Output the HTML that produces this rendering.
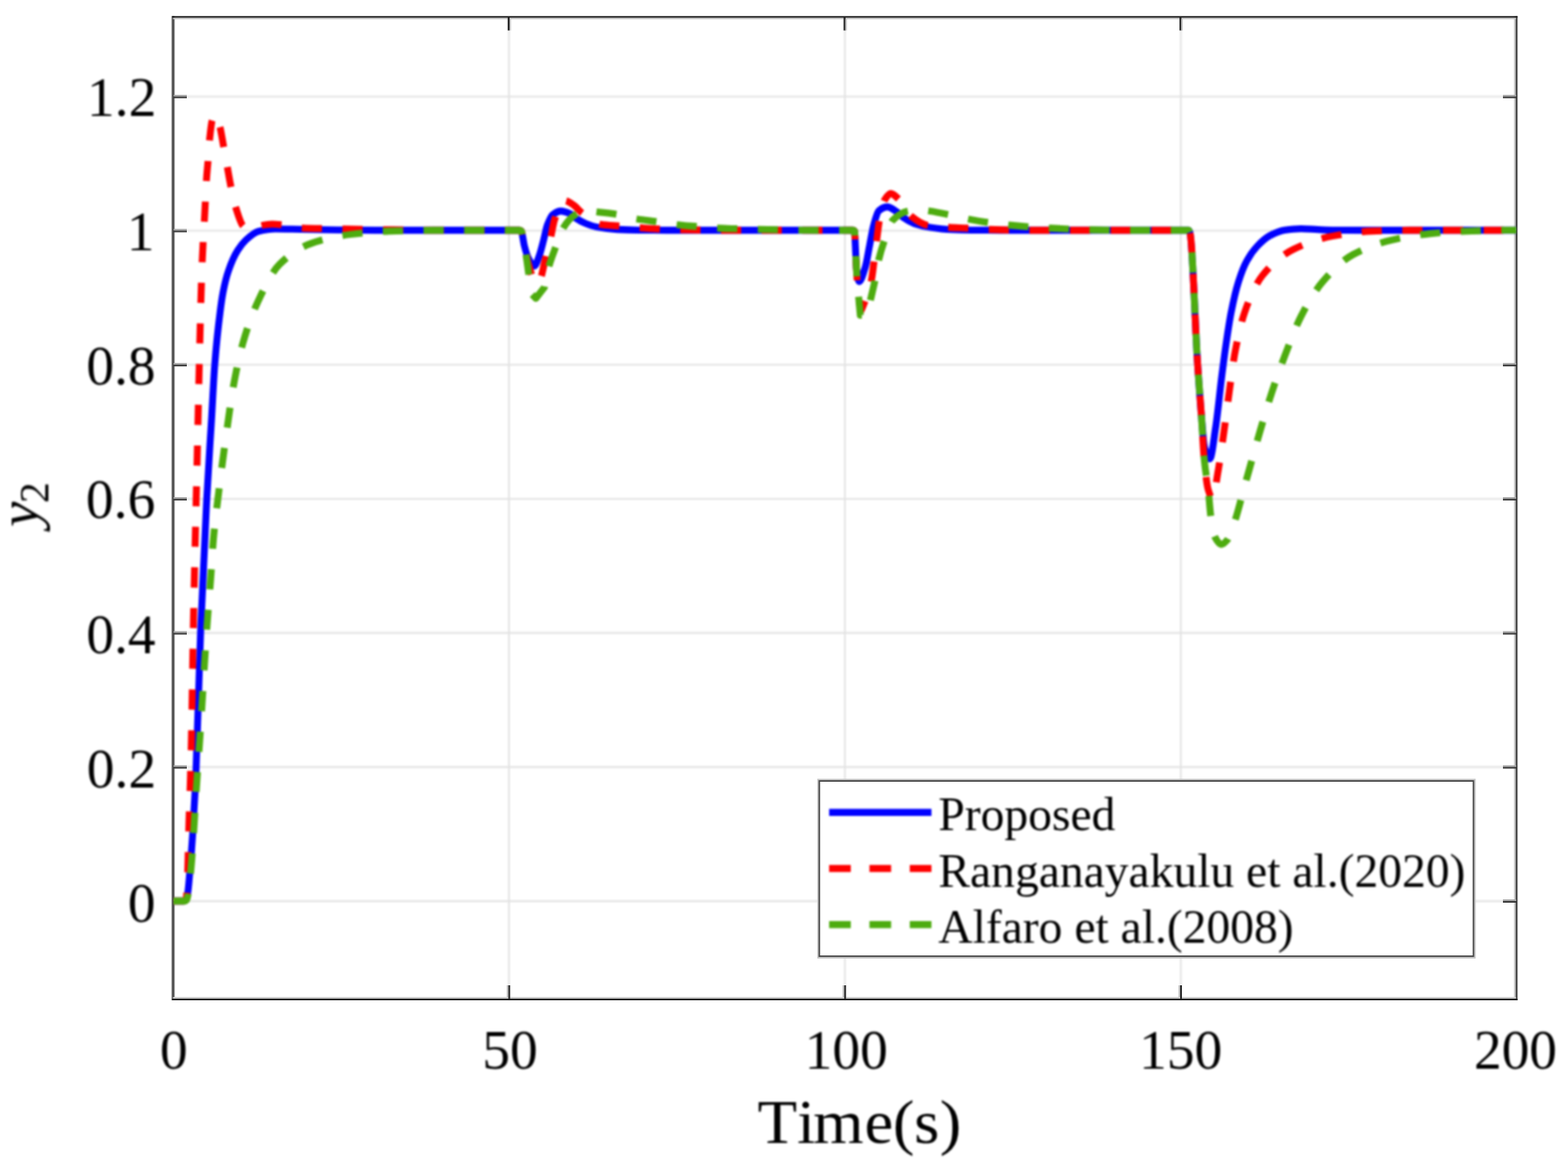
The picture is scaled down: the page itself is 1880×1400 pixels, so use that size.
<!DOCTYPE html>
<html lang="en">
<head>
<meta charset="utf-8">
<title>Closed-loop response y2: Proposed vs Ranganayakulu et al.(2020) vs Alfaro et al.(2008)</title>
<style>
html,body{margin:0;padding:0;background:#fff}
body{width:1880px;height:1400px;overflow:hidden}
svg{display:block}
</style>
</head>
<body>
<svg width="1880" height="1400" viewBox="0 0 1880 1400" role="img" aria-label="Closed-loop response y2 versus time">
<defs>
<filter id="soft" x="-2%" y="-2%" width="104%" height="104%" color-interpolation-filters="sRGB"><feGaussianBlur stdDeviation="0.8"/></filter>
<clipPath id="plot"><rect x="207.5" y="21" width="1611.0" height="1176"/></clipPath>
</defs>
<rect width="1880" height="1400" fill="#fff"/>
<g id="grid" stroke="#e2e2e2" stroke-width="2.1" filter="url(#soft)">
<line x1="207.5" x2="1818.5" y1="1080.10" y2="1080.10"/>
<line x1="207.5" x2="1818.5" y1="919.38" y2="919.38"/>
<line x1="207.5" x2="1818.5" y1="758.66" y2="758.66"/>
<line x1="207.5" x2="1818.5" y1="597.94" y2="597.94"/>
<line x1="207.5" x2="1818.5" y1="437.22" y2="437.22"/>
<line x1="207.5" x2="1818.5" y1="276.50" y2="276.50"/>
<line x1="207.5" x2="1818.5" y1="115.78" y2="115.78"/>
<line x1="610.25" x2="610.25" y1="21" y2="1197"/>
<line x1="1013.00" x2="1013.00" y1="21" y2="1197"/>
<line x1="1415.75" x2="1415.75" y1="21" y2="1197"/>
</g>
<g id="axes">
<rect x="205.5" y="19.3" width="4.1" height="1179.7" fill="#a0a0a0"/>
<rect x="206.4" y="19.3" width="2.3" height="1179.7" fill="#484848"/>
<rect x="1815.4" y="19.3" width="2.1" height="1179.7" fill="#c2c2c2"/>
<rect x="1817.4" y="19.3" width="2" height="1179.7" fill="#303030"/>
<rect x="207.5" y="21.2" width="1610" height="1.9" fill="#c6c6c6"/>
<rect x="206.4" y="19.3" width="1613" height="1.9" fill="#1e1e1e"/>
<rect x="207.5" y="1195" width="1610" height="2" fill="#cacaca"/>
<rect x="206.4" y="1197" width="1613" height="2" fill="#1e1e1e"/>
</g>
<g id="ticks">
<rect x="208" y="1078.10" width="16" height="1.9" fill="#a4a4a4"/>
<rect x="208" y="1080.00" width="16" height="2" fill="#3a3a3a"/>
<rect x="1802" y="1078.10" width="16" height="1.9" fill="#a4a4a4"/>
<rect x="1802" y="1080.00" width="16" height="2" fill="#3a3a3a"/>
<rect x="208" y="917.38" width="16" height="1.9" fill="#a4a4a4"/>
<rect x="208" y="919.28" width="16" height="2" fill="#3a3a3a"/>
<rect x="1802" y="917.38" width="16" height="1.9" fill="#a4a4a4"/>
<rect x="1802" y="919.28" width="16" height="2" fill="#3a3a3a"/>
<rect x="208" y="756.66" width="16" height="1.9" fill="#a4a4a4"/>
<rect x="208" y="758.56" width="16" height="2" fill="#3a3a3a"/>
<rect x="1802" y="756.66" width="16" height="1.9" fill="#a4a4a4"/>
<rect x="1802" y="758.56" width="16" height="2" fill="#3a3a3a"/>
<rect x="208" y="595.94" width="16" height="1.9" fill="#a4a4a4"/>
<rect x="208" y="597.84" width="16" height="2" fill="#3a3a3a"/>
<rect x="1802" y="595.94" width="16" height="1.9" fill="#a4a4a4"/>
<rect x="1802" y="597.84" width="16" height="2" fill="#3a3a3a"/>
<rect x="208" y="435.22" width="16" height="1.9" fill="#a4a4a4"/>
<rect x="208" y="437.12" width="16" height="2" fill="#3a3a3a"/>
<rect x="1802" y="435.22" width="16" height="1.9" fill="#a4a4a4"/>
<rect x="1802" y="437.12" width="16" height="2" fill="#3a3a3a"/>
<rect x="208" y="274.50" width="16" height="1.9" fill="#a4a4a4"/>
<rect x="208" y="276.40" width="16" height="2" fill="#3a3a3a"/>
<rect x="1802" y="274.50" width="16" height="1.9" fill="#a4a4a4"/>
<rect x="1802" y="276.40" width="16" height="2" fill="#3a3a3a"/>
<rect x="208" y="113.78" width="16" height="1.9" fill="#a4a4a4"/>
<rect x="208" y="115.68" width="16" height="2" fill="#3a3a3a"/>
<rect x="1802" y="113.78" width="16" height="1.9" fill="#a4a4a4"/>
<rect x="1802" y="115.68" width="16" height="2" fill="#3a3a3a"/>
<rect x="607.65" y="1181" width="1.9" height="14" fill="#bcbcbc"/>
<rect x="609.55" y="1181" width="2" height="16" fill="#1e1e1e"/>
<rect x="608.75" y="21" width="2.2" height="15.5" fill="#1e1e1e"/>
<rect x="610.95" y="23" width="1.6" height="13.5" fill="#c4c4c4"/>
<rect x="1010.40" y="1181" width="1.9" height="14" fill="#bcbcbc"/>
<rect x="1012.30" y="1181" width="2" height="16" fill="#1e1e1e"/>
<rect x="1011.50" y="21" width="2.2" height="15.5" fill="#1e1e1e"/>
<rect x="1013.70" y="23" width="1.6" height="13.5" fill="#c4c4c4"/>
<rect x="1413.15" y="1181" width="1.9" height="14" fill="#bcbcbc"/>
<rect x="1415.05" y="1181" width="2" height="16" fill="#1e1e1e"/>
<rect x="1414.25" y="21" width="2.2" height="15.5" fill="#1e1e1e"/>
<rect x="1416.45" y="23" width="1.6" height="13.5" fill="#c4c4c4"/>
</g>
<g id="curves" clip-path="url(#plot)"><g fill="none" stroke-width="8.3" stroke-linejoin="round" filter="url(#soft)">
<path d="M207.5,1080.0H221.0C221.83,1080.00 222.67,1079.20 223.5,1078.0C224.10,1077.14 224.70,1073.00 225.3,1069.0C226.20,1063.00 227.10,1050.69 228.0,1040.0C229.00,1028.12 230.00,1015.42 231.0,1000.0C231.92,985.87 232.83,968.17 233.8,950.0C234.23,940.42 234.72,930.74 235.2,919.0C236.97,876.08 238.73,803.22 240.5,758.0C242.92,696.14 245.33,645.46 247.8,600.0C249.75,562.38 251.75,533.48 253.8,500.0C255.00,479.08 256.25,452.93 257.5,437.0C259.58,410.44 261.67,391.35 263.8,375.0C265.00,365.19 266.25,356.38 267.5,350.0C269.58,339.36 271.67,331.12 273.8,325.0C277.50,313.99 281.25,305.97 285.0,300.0C288.33,294.70 291.67,290.50 295.0,287.5C300.00,283.01 305.00,278.57 310.0,277.3C316.67,275.61 323.33,274.30 330.0,274.3C340.00,274.30 350.00,274.63 360.0,274.8C375.00,275.06 390.00,275.42 405.0,275.6C420.00,275.78 435.00,276.00 450.0,276.0H623.0C623.67,276.00 624.33,276.44 625.0,277.0C626.25,278.05 627.50,290.33 628.8,295.0C630.42,301.22 632.08,306.95 633.8,310.0C636.03,314.18 638.32,318.75 640.6,318.8C642.48,318.75 644.37,312.31 646.2,307.5C647.92,303.25 649.58,296.22 651.2,290.0C652.92,283.78 654.58,274.50 656.2,270.0C658.33,264.38 660.42,259.11 662.5,257.5C665.83,254.93 669.17,253.00 672.5,253.0C676.25,253.00 680.00,254.58 683.8,256.2C685.83,257.18 687.92,259.88 690.0,261.2C694.17,264.00 698.33,266.33 702.5,268.0C706.67,269.67 710.83,271.23 715.0,272.0C723.33,273.53 731.67,274.58 740.0,275.0C748.33,275.42 756.67,275.72 765.0,275.8C776.67,275.92 788.33,276.00 800.0,276.0H1023.0C1023.53,276.00 1024.07,276.28 1024.6,277.0C1024.87,277.36 1025.13,285.99 1025.4,291.0C1025.90,300.40 1026.40,317.67 1026.9,322.0C1027.93,330.95 1028.97,337.50 1030.0,337.5C1032.50,337.50 1035.00,328.15 1037.5,320.0C1039.17,314.57 1040.83,303.33 1042.5,295.0C1044.17,286.67 1045.83,276.05 1047.5,270.0C1049.58,262.44 1051.67,254.21 1053.8,252.5C1057.08,249.76 1060.42,248.00 1063.8,248.0C1067.50,248.00 1071.25,251.32 1075.0,253.8C1077.92,255.64 1080.83,259.29 1083.8,261.2C1087.92,264.05 1092.08,266.58 1096.2,268.0C1102.50,270.13 1108.75,271.54 1115.0,272.5C1123.33,273.78 1131.67,274.90 1140.0,275.2C1148.33,275.60 1156.67,275.86 1165.0,275.9C1176.67,275.96 1188.33,276.00 1200.0,276.0H1425.0C1425.50,276.00 1426.00,276.98 1426.5,278.0C1429.67,284.48 1432.83,390.51 1436.0,437.5C1437.53,460.25 1439.07,482.16 1440.6,500.0C1441.73,513.18 1442.87,530.42 1444.0,535.0C1446.17,543.75 1448.33,550.00 1450.5,550.0C1452.83,550.00 1455.17,527.68 1457.5,512.5C1460.00,496.24 1462.50,469.67 1465.0,450.0C1466.67,436.89 1468.33,423.90 1470.0,412.5C1472.00,398.83 1474.00,385.14 1476.0,375.0C1479.00,359.80 1482.00,346.92 1485.0,337.5C1488.33,327.04 1491.67,318.55 1495.0,312.5C1499.17,304.94 1503.33,299.39 1507.5,295.0C1512.50,289.74 1517.50,285.16 1522.5,282.5C1528.33,279.39 1534.17,276.55 1540.0,275.8C1546.67,274.83 1553.33,274.10 1560.0,274.1C1566.67,274.10 1573.33,274.91 1580.0,275.2C1586.67,275.49 1593.33,275.86 1600.0,275.9C1610.00,275.96 1620.00,276.00 1630.0,276.0H1818.5" stroke="#0000ff"/>
<path d="M207.5,1080.0H220.5C221.40,1080.00 222.30,1079.00 223.2,1077.0C223.80,1075.67 224.40,1060.70 225.0,1046.0C225.23,1040.28 225.47,1029.78 225.7,1021.0C226.00,1009.71 226.30,995.42 226.6,985.0C227.13,966.47 227.67,955.05 228.2,937.0C228.63,922.33 229.07,906.62 229.5,887.0C230.33,849.26 231.17,783.79 232.0,742.0C233.08,687.67 234.17,645.36 235.2,600.0C237.67,498.82 240.08,370.29 242.5,312.0C243.33,291.90 244.17,280.52 245.0,265.0C245.42,257.24 245.83,250.00 246.2,241.9C246.67,233.80 247.08,222.73 247.5,216.2C248.13,206.39 248.77,201.22 249.4,193.1C250.02,185.20 250.63,174.21 251.2,168.1C252.30,157.69 253.35,147.35 254.4,144.4C255.80,140.46 257.20,137.40 258.6,137.4C260.32,137.40 262.03,145.96 263.8,152.5C265.20,158.02 266.65,167.73 268.1,175.6C269.57,183.56 271.03,191.98 272.5,200.0C273.97,208.02 275.43,216.66 276.9,223.8C278.77,232.78 280.63,242.09 282.5,248.1C285.63,258.19 288.77,268.95 291.9,271.2C294.93,273.48 297.97,275.20 301.0,275.2C305.25,275.20 309.50,271.13 313.8,270.3C317.83,269.51 321.92,268.70 326.0,268.7C330.47,268.70 334.93,269.19 339.4,269.6C347.27,270.31 355.13,272.92 363.0,273.3C371.17,273.70 379.33,273.83 387.5,274.0C395.33,274.17 403.17,274.27 411.0,274.4C419.00,274.53 427.00,274.66 435.0,274.8C446.67,275.01 458.33,275.32 470.0,275.5C483.33,275.71 496.67,276.00 510.0,276.0H623.0C623.67,276.00 624.33,276.44 625.0,277.0C626.25,278.05 627.50,289.26 628.8,295.0C630.50,303.04 632.25,312.37 634.0,318.0C637.00,327.65 640.00,340.00 643.0,340.0C644.67,340.00 646.33,336.89 648.0,333.8C649.92,330.14 651.83,318.23 653.8,310.6C655.83,302.31 657.92,294.86 660.0,286.0C661.67,278.91 663.33,267.71 665.0,263.0C669.00,251.69 673.00,240.50 677.0,240.5C680.67,240.50 684.33,243.58 688.0,246.0C691.17,248.09 694.33,252.58 697.5,255.0C705.00,260.74 712.50,267.46 720.0,268.8C727.50,270.04 735.00,270.33 742.5,271.0C750.83,271.74 759.17,272.41 767.5,273.0C775.33,273.56 783.17,274.18 791.0,274.5C804.00,275.03 817.00,275.41 830.0,275.6C843.33,275.80 856.67,276.00 870.0,276.0H1023.0C1023.53,276.00 1024.07,276.28 1024.6,277.0C1024.87,277.36 1025.13,286.09 1025.4,291.0C1026.10,303.88 1026.80,322.21 1027.5,332.5C1028.13,341.81 1028.77,350.09 1029.4,354.9C1030.47,363.00 1031.53,370.61 1032.6,372.0C1034.27,368.43 1035.93,364.29 1037.6,359.6C1040.07,352.66 1042.53,346.92 1045.0,335.0C1046.00,330.17 1047.00,320.58 1048.0,313.0C1049.08,304.79 1050.17,295.83 1051.2,287.5C1052.30,279.43 1053.35,269.15 1054.4,263.8C1056.68,252.02 1058.97,242.33 1061.2,238.8C1063.50,235.22 1065.75,232.00 1068.0,232.0C1071.17,232.00 1074.33,235.84 1077.5,238.8C1082.33,243.18 1087.17,254.80 1092.0,258.8C1098.67,264.20 1105.33,268.85 1112.0,270.0C1120.50,271.46 1129.00,272.00 1137.5,272.5C1145.33,272.96 1153.17,273.11 1161.0,273.5C1169.33,273.91 1177.67,274.71 1186.0,275.0C1200.67,275.50 1215.33,276.00 1230.0,276.0H1425.0C1425.50,276.00 1426.00,276.98 1426.5,278.0C1429.67,284.48 1432.83,390.51 1436.0,437.5C1437.53,460.25 1439.07,477.44 1440.6,500.0C1441.65,515.45 1442.70,539.01 1443.8,550.0C1445.42,567.45 1447.08,582.21 1448.8,587.5C1450.50,593.05 1452.25,598.00 1454.0,598.0C1456.00,598.00 1458.00,578.98 1460.0,567.5C1462.50,553.15 1465.00,535.29 1467.5,517.5C1469.58,502.67 1471.67,484.93 1473.8,470.0C1476.17,452.68 1478.58,433.58 1481.0,421.0C1484.83,401.04 1488.67,384.62 1492.5,373.8C1499.58,353.66 1506.67,338.78 1513.8,330.0C1526.17,314.61 1538.58,304.84 1551.0,298.8C1566.50,291.15 1582.00,285.86 1597.5,283.0C1613.33,280.08 1629.17,277.59 1645.0,277.0C1660.00,276.44 1675.00,276.00 1690.0,276.0H1818.5" stroke="#ff0000" stroke-dasharray="24.2 24.55"/>
<path d="M207.5,1080.0H221.5C222.33,1080.00 223.17,1079.16 224.0,1078.0C224.67,1077.07 225.33,1072.96 226.0,1069.0C227.23,1061.68 228.47,1047.37 229.7,1033.0C231.80,1008.53 233.90,967.87 236.0,937.0C237.17,919.85 238.33,904.46 239.5,887.0C240.50,872.04 241.50,855.99 242.5,840.0C243.50,824.01 244.50,806.69 245.5,791.0C246.58,774.00 247.67,756.86 248.8,742.0C250.00,724.85 251.25,711.70 252.5,695.0C253.67,679.41 254.83,658.06 256.0,645.0C257.67,626.35 259.33,613.93 261.0,600.0C264.83,567.95 268.67,539.18 272.5,512.0C275.00,494.27 277.50,475.68 280.0,462.0C283.67,441.94 287.33,424.89 291.0,412.0C297.00,390.90 303.00,374.98 309.0,362.0C317.67,343.25 326.33,325.57 335.0,317.0C347.50,304.64 360.00,296.38 372.5,292.0C388.33,286.45 404.17,282.97 420.0,281.0C435.67,279.05 451.33,277.49 467.0,277.0C484.67,276.45 502.33,276.00 520.0,276.0H623.0C623.67,276.00 624.33,276.44 625.0,277.0C626.25,278.05 627.50,288.60 628.8,295.0C629.37,298.16 629.98,301.25 630.6,305.0C631.65,311.38 632.70,319.99 633.8,327.5C634.90,335.72 636.05,343.96 637.2,352.2C638.97,354.00 640.73,355.80 642.5,357.6C645.90,353.23 649.30,348.87 652.7,344.5C654.47,335.05 656.23,326.42 658.0,320.0C660.33,311.52 662.67,305.82 665.0,299.4C668.33,290.23 671.67,279.14 675.0,273.8C679.58,266.34 684.17,260.83 688.8,258.0C693.50,255.07 698.25,252.00 703.0,252.0C707.00,252.00 711.00,253.20 715.0,253.8C723.13,254.87 731.27,255.55 739.4,256.9C747.52,258.24 755.63,261.15 763.8,262.5C771.67,263.82 779.58,264.46 787.5,265.6C795.33,266.73 803.17,268.51 811.0,269.4C819.00,270.31 827.00,270.84 835.0,271.5C843.53,272.20 852.07,273.12 860.6,273.5C868.07,273.83 875.53,273.98 883.0,274.2C895.33,274.57 907.67,275.03 920.0,275.2C940.00,275.61 960.00,276.00 980.0,276.0H1023.0C1023.53,276.00 1024.07,276.28 1024.6,277.0C1024.87,277.36 1025.13,286.09 1025.4,291.0C1026.10,303.88 1026.80,322.21 1027.5,332.5C1028.13,341.81 1028.77,347.72 1029.4,354.9C1030.10,362.84 1030.80,370.49 1031.5,377.8C1034.27,377.80 1037.03,377.75 1039.8,377.6C1041.13,377.53 1042.47,365.09 1043.8,359.1C1045.57,351.16 1047.33,344.59 1049.1,336.0C1050.65,328.47 1052.20,317.16 1053.8,310.6C1055.83,301.78 1057.92,295.47 1060.0,289.4C1063.33,279.69 1066.67,267.88 1070.0,264.4C1076.25,257.88 1082.50,254.12 1088.8,253.0C1093.33,252.18 1097.92,251.50 1102.5,251.5C1106.67,251.50 1110.83,252.40 1115.0,253.0C1122.92,254.14 1130.83,255.87 1138.8,257.5C1146.83,259.17 1154.92,261.45 1163.0,263.0C1171.00,264.54 1179.00,265.88 1187.0,267.0C1195.33,268.16 1203.67,269.22 1212.0,270.0C1228.00,271.49 1244.00,272.67 1260.0,273.5C1276.67,274.36 1293.33,275.23 1310.0,275.5C1326.67,275.77 1343.33,276.00 1360.0,276.0H1425.0C1425.50,276.00 1426.00,276.98 1426.5,278.0C1429.67,284.48 1432.83,390.51 1436.0,437.5C1437.53,460.25 1439.07,477.44 1440.6,500.0C1441.65,515.45 1442.70,539.01 1443.8,550.0C1445.42,567.45 1447.08,572.68 1448.8,587.5C1449.73,596.25 1450.72,611.54 1451.7,618.6C1453.27,629.85 1454.83,640.05 1456.4,643.2C1459.07,648.57 1461.73,652.50 1464.4,652.5C1466.93,652.50 1469.47,649.67 1472.0,646.5C1473.33,644.83 1474.67,640.40 1476.0,637.0C1477.80,632.41 1479.60,627.59 1481.4,622.0C1483.50,615.48 1485.60,607.48 1487.7,599.7C1488.80,595.63 1489.90,591.07 1491.0,587.0C1493.17,578.97 1495.33,571.68 1497.5,564.0C1502.00,548.04 1506.50,531.37 1511.0,516.0C1515.67,500.06 1520.33,484.17 1525.0,470.0C1530.33,453.81 1535.67,438.91 1541.0,425.0C1547.33,408.48 1553.67,391.32 1560.0,379.0C1568.67,362.15 1577.33,347.57 1586.0,337.5C1598.17,323.37 1610.33,311.55 1622.5,305.0C1637.50,296.93 1652.50,291.51 1667.5,288.0C1683.33,284.30 1699.17,281.49 1715.0,280.0C1731.67,278.43 1748.33,277.24 1765.0,276.8C1782.83,276.23 1800.67,275.75 1818.5,275.8" stroke="#4dac0f" stroke-dasharray="24.2 24.55"/>
</g></g>
<g id="legend">
<rect x="980.7" y="934.3" width="787.8" height="213.8" fill="#fff" stroke="#c4c4c4" stroke-width="1.6"/>
<rect x="982.35" y="936.1" width="784.3" height="210.1" fill="#fff" stroke="#464646" stroke-width="1.9"/>
<g filter="url(#soft)" font-family="'Liberation Serif', 'Times New Roman', serif" font-size="57.05" fill="#000" stroke-width="8.3">
<line x1="994.1" x2="1116.8" y1="973.75" y2="973.75" stroke="#0000ff"/>
<text x="1125" y="995.0">Proposed</text>
<line x1="994.1" x2="1116.8" y1="1041.0" y2="1041.0" stroke="#ff0000" stroke-dasharray="26 22.35"/>
<text x="1125" y="1062.5">Ranganayakulu et al.(2020)</text>
<line x1="994.1" x2="1116.8" y1="1108.25" y2="1108.25" stroke="#4dac0f" stroke-dasharray="26 22.35"/>
<text x="1125" y="1130.0">Alfaro et al.(2008)</text>
</g></g>
<g id="labels" filter="url(#soft)" font-family="'Liberation Serif', 'Times New Roman', serif" fill="#000">
<g font-size="66.5" text-anchor="middle">
<text transform="translate(208.4,1281.2) scale(1,1.03)">0</text>
<text transform="translate(611.6,1281.2) scale(1,1.03)">50</text>
<text transform="translate(1014.7,1281.2) scale(1,1.03)">100</text>
<text transform="translate(1415.7,1281.2) scale(1,1.03)">150</text>
<text transform="translate(1817.0,1281.2) scale(1,1.03)">200</text>
</g><g font-size="66.5" text-anchor="end">
<text transform="translate(186.4,1105.0) scale(1,1.03)">0</text>
<text transform="translate(187.2,944.1) scale(1,1.03)">0.2</text>
<text transform="translate(186.6,783.2) scale(1,1.03)">0.4</text>
<text transform="translate(186.2,621.2) scale(1,1.03)">0.6</text>
<text transform="translate(186.6,460.5) scale(1,1.03)">0.8</text>
<text transform="translate(185.3,299.9) scale(1,1.03)">1</text>
<text transform="translate(187.4,139.2) scale(1,1.03)">1.2</text>
</g>
<text transform="translate(0,1370) scale(1.05,1)" x="864.9 910.2 928.6 987.1 1019.5 1043.7 1073" y="0" font-size="74">Time(s)</text>
<text transform="translate(46,631.5) rotate(-90)" font-size="68" font-style="italic">y<tspan font-style="normal" font-size="50" dy="12" dx="-1.7">2</tspan></text>
</g>
</svg>
</body>
</html>
